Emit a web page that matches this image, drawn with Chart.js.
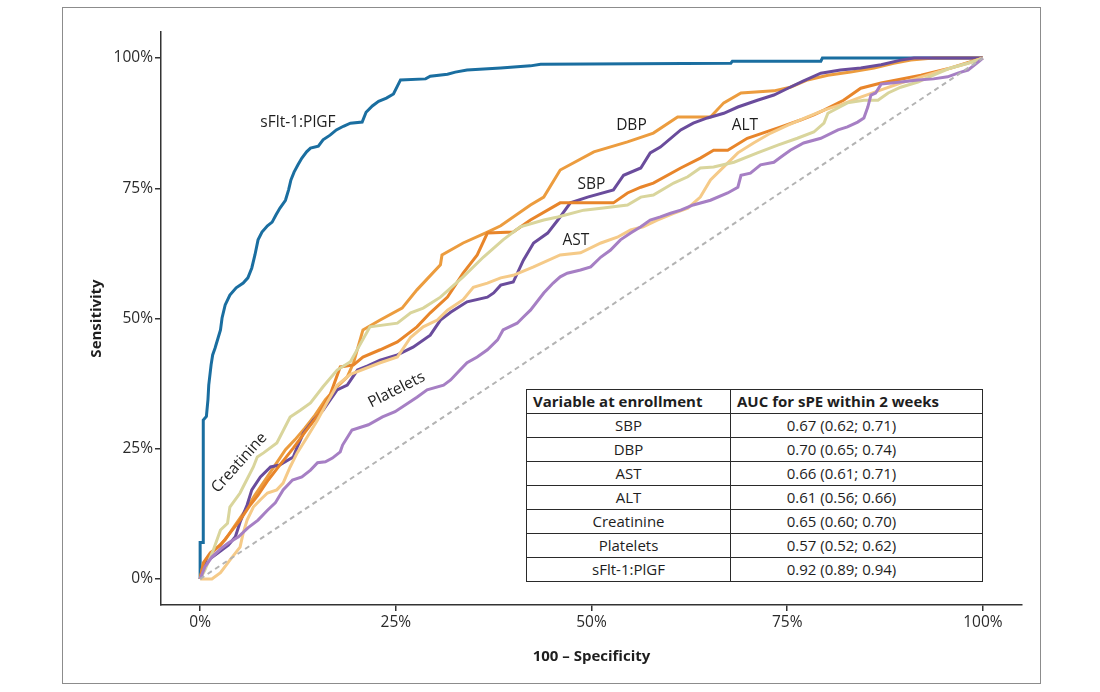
<!doctype html>
<html lang="en">
<head>
<meta charset="utf-8" />
<title>ROC curves</title>
<script src="https://cdn.jsdelivr.net/npm/chart.js@4.4.3/dist/chart.umd.min.js"></script>
<style>
  html, body { margin: 0; padding: 0; background: #fff; }
  body { width: 1100px; height: 692px; position: relative; overflow: hidden; font-family: "Open Sans", sans-serif; }
  .frame { position: absolute; left: 62px; top: 7px; width: 979px; height: 677px; border: 1.5px solid #8c8c8c; box-sizing: border-box; }
  #roc { position: absolute; left: 0; top: 0; }
  table.auc { position: absolute; left: 526px; top: 389px; width: 457px; border-collapse: collapse; font-size: 15px; color: #1e1e1e; background: #fff; }
  table.auc th, table.auc td { border: 1.5px solid #2a2a2a; padding: 0; height: 23px; line-height: 23px; }
  table.auc th { text-align: left; padding-left: 6px; font-weight: 700; }
  table.auc td { text-align: center; }
  table.auc td.val { padding-right: 30px; }
  table.auc th.c1, table.auc td.c1 { width: 197px; }
</style>
</head>
<body>
<div class="frame"></div>
<canvas id="roc" width="1100" height="692"></canvas>
<table class="auc" id="auc"></table>
<script>
  const ticksPct = [0, 25, 50, 75, 100];

  const sflt = [[0,0],[0,7],[0.4,7],[0.4,30.5],[0.8,31.2],[1.0,34.4],[1.1,37.2],[1.4,41.1],[1.6,43],[1.9,44.3],[2.3,46.3],[2.6,47.8],[2.8,50.1],[3.2,52.6],[3.8,54.5],[4.6,55.9],[5.5,56.8],[6.1,57.8],[6.6,59.7],[7.0,62.2],[7.4,65.1],[7.9,66.6],[8.6,67.8],[9.2,68.5],[9.7,69.9],[10.2,71.2],[10.9,72.7],[11.3,74.7],[11.6,76.6],[12.0,78.1],[12.5,79.5],[13.0,80.8],[13.6,82],[14.1,82.7],[15.1,83.1],[15.7,84.3],[16.6,85.2],[17.4,86.2],[18.3,86.9],[19.2,87.5],[20.7,87.7],[21.2,89.6],[22.0,90.8],[22.8,91.7],[23.8,92.3],[24.7,93.1],[25.2,94.6],[25.6,95.8],[28.8,96],[29.4,96.5],[31.6,96.9],[32.6,97.3],[34.1,97.7],[38.4,98.1],[42.2,98.5],[43.5,98.8],[67.8,99],[68,99.4],[79.3,99.4],[79.5,100],[100,100]];

  const dbp = [[0,0],[0.3,2.1],[0.9,4.0],[1.9,5.6],[3.2,7.5],[4.5,10.4],[5.8,13.2],[7.0,16.1],[8.3,19.0],[9.6,21.9],[10.9,24.8],[12.1,26.7],[13.4,29.0],[14.7,31.5],[16.0,34.4],[17.5,36.9],[18.8,38.8],[19.6,41.5],[20.8,47.8],[23.0,49.7],[25.8,52.0],[27.7,55.5],[30.7,60.3],[30.9,62.2],[33.6,64.5],[36.7,66.6],[38.4,67.8],[42.2,71.8],[43.9,73.3],[46.0,78.5],[50.3,82.0],[54.6,83.9],[57.9,85.6],[61.0,88.7],[65.2,88.7],[66.9,91.4],[69.1,93.3],[73.3,93.7],[75.4,94.4],[77.6,95.8],[80.2,96.7],[83.1,97.3],[86.1,98.1],[88.6,99.0],[90.8,99.6],[93.7,100],[100,100]];

  const sbp = [[0,0],[0.3,1.2],[1.0,3.6],[2.3,5.0],[3.6,6.5],[4.5,8.1],[5.1,10.9],[6.0,14.2],[6.6,17.1],[7.7,19.6],[9.0,21.5],[10.2,21.9],[11.9,23.4],[12.4,25.3],[13.2,28.0],[14.5,30.5],[15.7,32.4],[17.5,36.3],[18.8,37.2],[20.1,40.1],[21.4,40.9],[23.0,42.0],[25.2,43.0],[27.2,44.5],[29.4,46.8],[30.7,49.7],[32.0,51.2],[34.1,53.2],[36.7,54.1],[37.5,54.9],[38.4,56.4],[40.0,57.0],[41.3,61.2],[42.6,64.5],[44.4,66.4],[45.7,68.9],[47.3,72.2],[49.5,73.3],[52.8,74.7],[54.1,77.5],[56.3,78.9],[57.5,81.8],[58.8,82.9],[61.4,86.2],[63.0,87.5],[64.8,88.5],[66.9,89.4],[68.7,90.6],[71.2,91.9],[73.3,92.9],[75.1,94.2],[77.1,95.6],[79.3,97.1],[81.8,97.7],[84.4,98.1],[87.0,98.7],[89.5,99.6],[91.2,100],[100,100]];

  const alt = [[0,0],[0.4,3.1],[1.3,5.0],[2.6,6.5],[3.8,8.8],[5.1,11.3],[6.4,14.2],[7.4,16.1],[8.7,19.0],[10.2,21.9],[11.9,25.1],[13.4,28.2],[15.1,31.5],[16.6,35.3],[17.9,40.7],[19.6,41.1],[20.8,42.6],[23.0,44.0],[25.2,45.5],[27.7,48.4],[29.4,51.1],[31.6,54.1],[33.6,58.7],[35.4,62.2],[36.7,66.4],[40.0,66.6],[42.2,68.9],[46.0,72.2],[52.8,72.2],[54.6,74.1],[56.3,75.2],[57.9,76.0],[61.4,78.9],[63.9,80.8],[65.6,82.3],[67.4,82.3],[69.9,84.6],[74.2,86.8],[76.7,88.1],[78.4,89.1],[79.7,90.0],[82.2,91.9],[84.4,94.2],[87.0,95.2],[92.1,96.7],[95.9,98.1],[100,100]];

  const ast = [[0,0],[0.4,0],[1.5,0],[2.6,1.2],[3.8,3.6],[5.1,6.1],[5.5,8.8],[6.0,11.3],[6.8,13.8],[7.7,15.2],[8.6,16.5],[9.8,17.1],[10.6,18.4],[11.5,21.5],[12.4,24.2],[13.7,27.3],[15.0,30.5],[16.2,33.8],[17.5,37.2],[19.2,39.3],[23.0,41.5],[25.2,42.6],[26.9,46.4],[28.5,48.4],[30.3,49.7],[31.6,51.6],[33.6,53.6],[34.9,56.0],[36.7,56.8],[38.4,57.8],[40.0,58.3],[42.6,59.9],[46.0,62.2],[48.6,62.6],[51.2,64.5],[53.3,65.6],[55.0,67.0],[56.6,67.6],[58.4,68.9],[60.5,70.2],[62.3,71.2],[63.9,73.3],[65.2,76.6],[66.9,79.1],[68.7,81.8],[70.7,83.7],[72.9,85.6],[75.1,87.1],[77.6,88.7],[79.7,90.0],[81.8,91.0],[84.4,92.5],[87.0,93.9],[89.5,95.2],[91.7,96.2],[93.7,97.1],[95.9,98.1],[98.1,99.0],[100,100]];

  const creatinine = [[0,0],[0.6,1.7],[1.7,5.6],[2.6,9.4],[3.5,10.7],[3.8,13.8],[5.1,16.5],[5.5,17.7],[6.8,21.5],[7.3,23.4],[8.1,24.2],[9.8,26.1],[11.5,31.1],[12.8,32.4],[14.1,33.8],[15.7,36.9],[17.5,40.1],[19.2,41.7],[21.7,48.4],[25.2,49.1],[26.9,51.1],[28.5,52.0],[30.7,54.1],[33.6,58.0],[36.2,61.8],[38.7,65.1],[40.9,67.6],[43.9,68.9],[45.7,69.5],[49.0,70.8],[51.5,71.2],[54.6,71.8],[56.3,73.3],[57.9,73.7],[60.5,76.0],[62.3,77.2],[63.9,78.9],[65.6,79.1],[68.2,80.0],[71.2,81.8],[73.8,83.3],[76.3,84.6],[78.4,85.8],[79.7,87.5],[80.2,89.4],[82.7,91.4],[84.8,91.9],[86.6,91.9],[87.9,93.3],[89.5,94.4],[91.7,95.4],[93.7,96.7],[95.9,98.1],[98.1,99.0],[100,100]];

  const platelets = [[0,0],[0.6,2.3],[1.5,4.2],[2.8,6.0],[3.6,6.9],[4.9,8.1],[6.1,9.8],[7.4,11.3],[8.6,13.2],[9.6,14.6],[10.6,17.1],[11.8,19.0],[13.0,19.6],[14.1,20.9],[15.0,22.3],[16.0,22.5],[16.9,23.2],[17.9,24.4],[18.2,25.7],[19.4,28.6],[21.5,29.6],[23.3,31.1],[24.9,32.1],[27.7,34.9],[29.0,36.3],[31.1,37.2],[32.0,38.2],[33.2,40.1],[34.1,41.5],[35.4,42.6],[36.7,44.0],[38.0,45.9],[38.7,47.8],[40.5,49.1],[41.3,50.3],[42.2,51.6],[43.9,54.9],[45.1,56.8],[46.0,58.0],[46.9,58.7],[48.6,59.3],[49.9,59.9],[51.2,61.8],[52.4,63.1],[53.7,65.1],[55.0,66.4],[56.3,67.6],[57.5,68.9],[58.8,69.5],[60.1,70.2],[61.4,70.8],[63.0,71.8],[65.2,72.7],[67.4,74.1],[68.7,75.2],[69.1,77.5],[70.3,77.9],[71.6,79.5],[73.3,80.0],[74.2,81.0],[75.4,82.3],[77.1,83.7],[79.3,84.6],[81.5,86.2],[82.7,86.8],[84.0,87.7],[84.8,88.5],[85.3,90.6],[85.7,92.9],[86.3,93.3],[87.0,95.0],[89.5,95.4],[91.7,95.8],[93.7,96.0],[95.5,96.4],[96.8,97.1],[98.1,97.7],[99.4,99.2],[100,100]];

  const chance = [[0,0],[100,100]];

  const tableVars = ["SBP", "DBP", "AST", "ALT", "Creatinine", "Platelets", "sFlt-1:PlGF"];
  const tableAuc = ["0.67 (0.62; 0.71)", "0.70 (0.65; 0.74)", "0.66 (0.61; 0.71)", "0.61 (0.56; 0.66)", "0.65 (0.60; 0.70)", "0.57 (0.52; 0.62)", "0.92 (0.89; 0.94)"];

  const curveLabels = [
    { text: "sFlt-1:PlGF", x: 12.5, y: 87.7, angle: 0 },
    { text: "DBP", x: 55.1, y: 87.0, angle: 0 },
    { text: "ALT", x: 69.6, y: 87.0, angle: 0 },
    { text: "SBP", x: 50.0, y: 75.8, angle: 0 },
    { text: "AST", x: 48.0, y: 64.9, angle: 0 },
    { text: "Creatinine", x: 5.0, y: 22.3, angle: -48 },
    { text: "Platelets", x: 25.1, y: 36.3, angle: -27 },
  ];

  // table
  const tbl = document.getElementById("auc");
  let rowsHtml = '<tr><th class="c1">Variable at enrollment</th><th>AUC for sPE within 2 weeks</th></tr>';
  for (let i = 0; i < tableVars.length; i += 1) {
    rowsHtml += '<tr><td class="c1">' + tableVars[i] + '</td><td class="val">' + tableAuc[i] + '</td></tr>';
  }
  tbl.innerHTML = rowsHtml;

  const toXY = (arr) => arr.map(([x, y]) => ({ x, y }));
  const line = (label, data, color, width) => ({
    label, data: toXY(data), borderColor: color, borderWidth: width,
    showLine: true, pointRadius: 0, tension: 0, fill: false,
  });

  const labelPlugin = {
    id: "curveLabels",
    afterDatasetsDraw(chart) {
      const { ctx, scales } = chart;
      ctx.save();
      ctx.font = '15.5px "Open Sans", sans-serif';
      ctx.fillStyle = "#1e1e1e";
      ctx.textAlign = "center";
      ctx.textBaseline = "middle";
      for (const l of curveLabels) {
        ctx.save();
        ctx.translate(scales.x.getPixelForValue(l.x), scales.y.getPixelForValue(l.y));
        ctx.rotate(l.angle * Math.PI / 180);
        ctx.fillText(l.text, 0, 0);
        ctx.restore();
      }
      ctx.restore();
    },
  };

  const axisCommon = {
    type: "linear",
    min: -5,
    max: 105,
    afterBuildTicks: (scale) => { scale.ticks = ticksPct.map((v) => ({ value: v })); },
    grid: { drawOnChartArea: false, drawTicks: true, tickLength: 6, color: "#333", lineWidth: 1.5 },
    border: { display: true, color: "#333", width: 1.5 },
    ticks: {
      autoSkip: false,
      color: "#2a2a2a",
      font: { family: "Open Sans", size: 15.5 },
      padding: 2,
      callback: (v) => v + "%",
    },
  };

  new Chart(document.getElementById("roc"), {
    type: "scatter",
    data: {
      datasets: [
        { ...line("Chance", chance, "#b3b3b3", 2), borderDash: [5, 4] },
        line("Platelets", platelets, "#a67fc4", 3),
        line("Creatinine", creatinine, "#d9d59c", 3),
        line("AST", ast, "#f5ca88", 3),
        line("ALT", alt, "#e8852a", 3),
        line("SBP", sbp, "#6a4c9c", 3),
        line("DBP", dbp, "#ec9c3e", 3),
        line("sFlt-1:PlGF", sflt, "#1a6ea0", 3),
      ],
    },
    options: {
      responsive: false,
      animation: false,
      layout: { padding: { left: 62, right: 78, top: 32, bottom: 8 } },
      plugins: { legend: { display: false }, tooltip: { enabled: false } },
      scales: {
        x: {
          ...axisCommon,
          position: "bottom",
          afterFit: (scale) => { scale.height = 79; },
          title: { display: true, text: "100 \u2013 Specificity", color: "#1e1e1e", font: { family: "Open Sans", size: 15, weight: "bold" }, padding: { bottom: 18 } },
        },
        y: {
          ...axisCommon,
          position: "left",
          afterFit: (scale) => { scale.width = 99; },
          title: { display: true, text: "Sensitivity", color: "#1e1e1e", font: { family: "Open Sans", size: 15, weight: "bold" }, padding: { top: 26 } },
        },
      },
    },
    plugins: [labelPlugin],
  });
</script>
</body>
</html>
